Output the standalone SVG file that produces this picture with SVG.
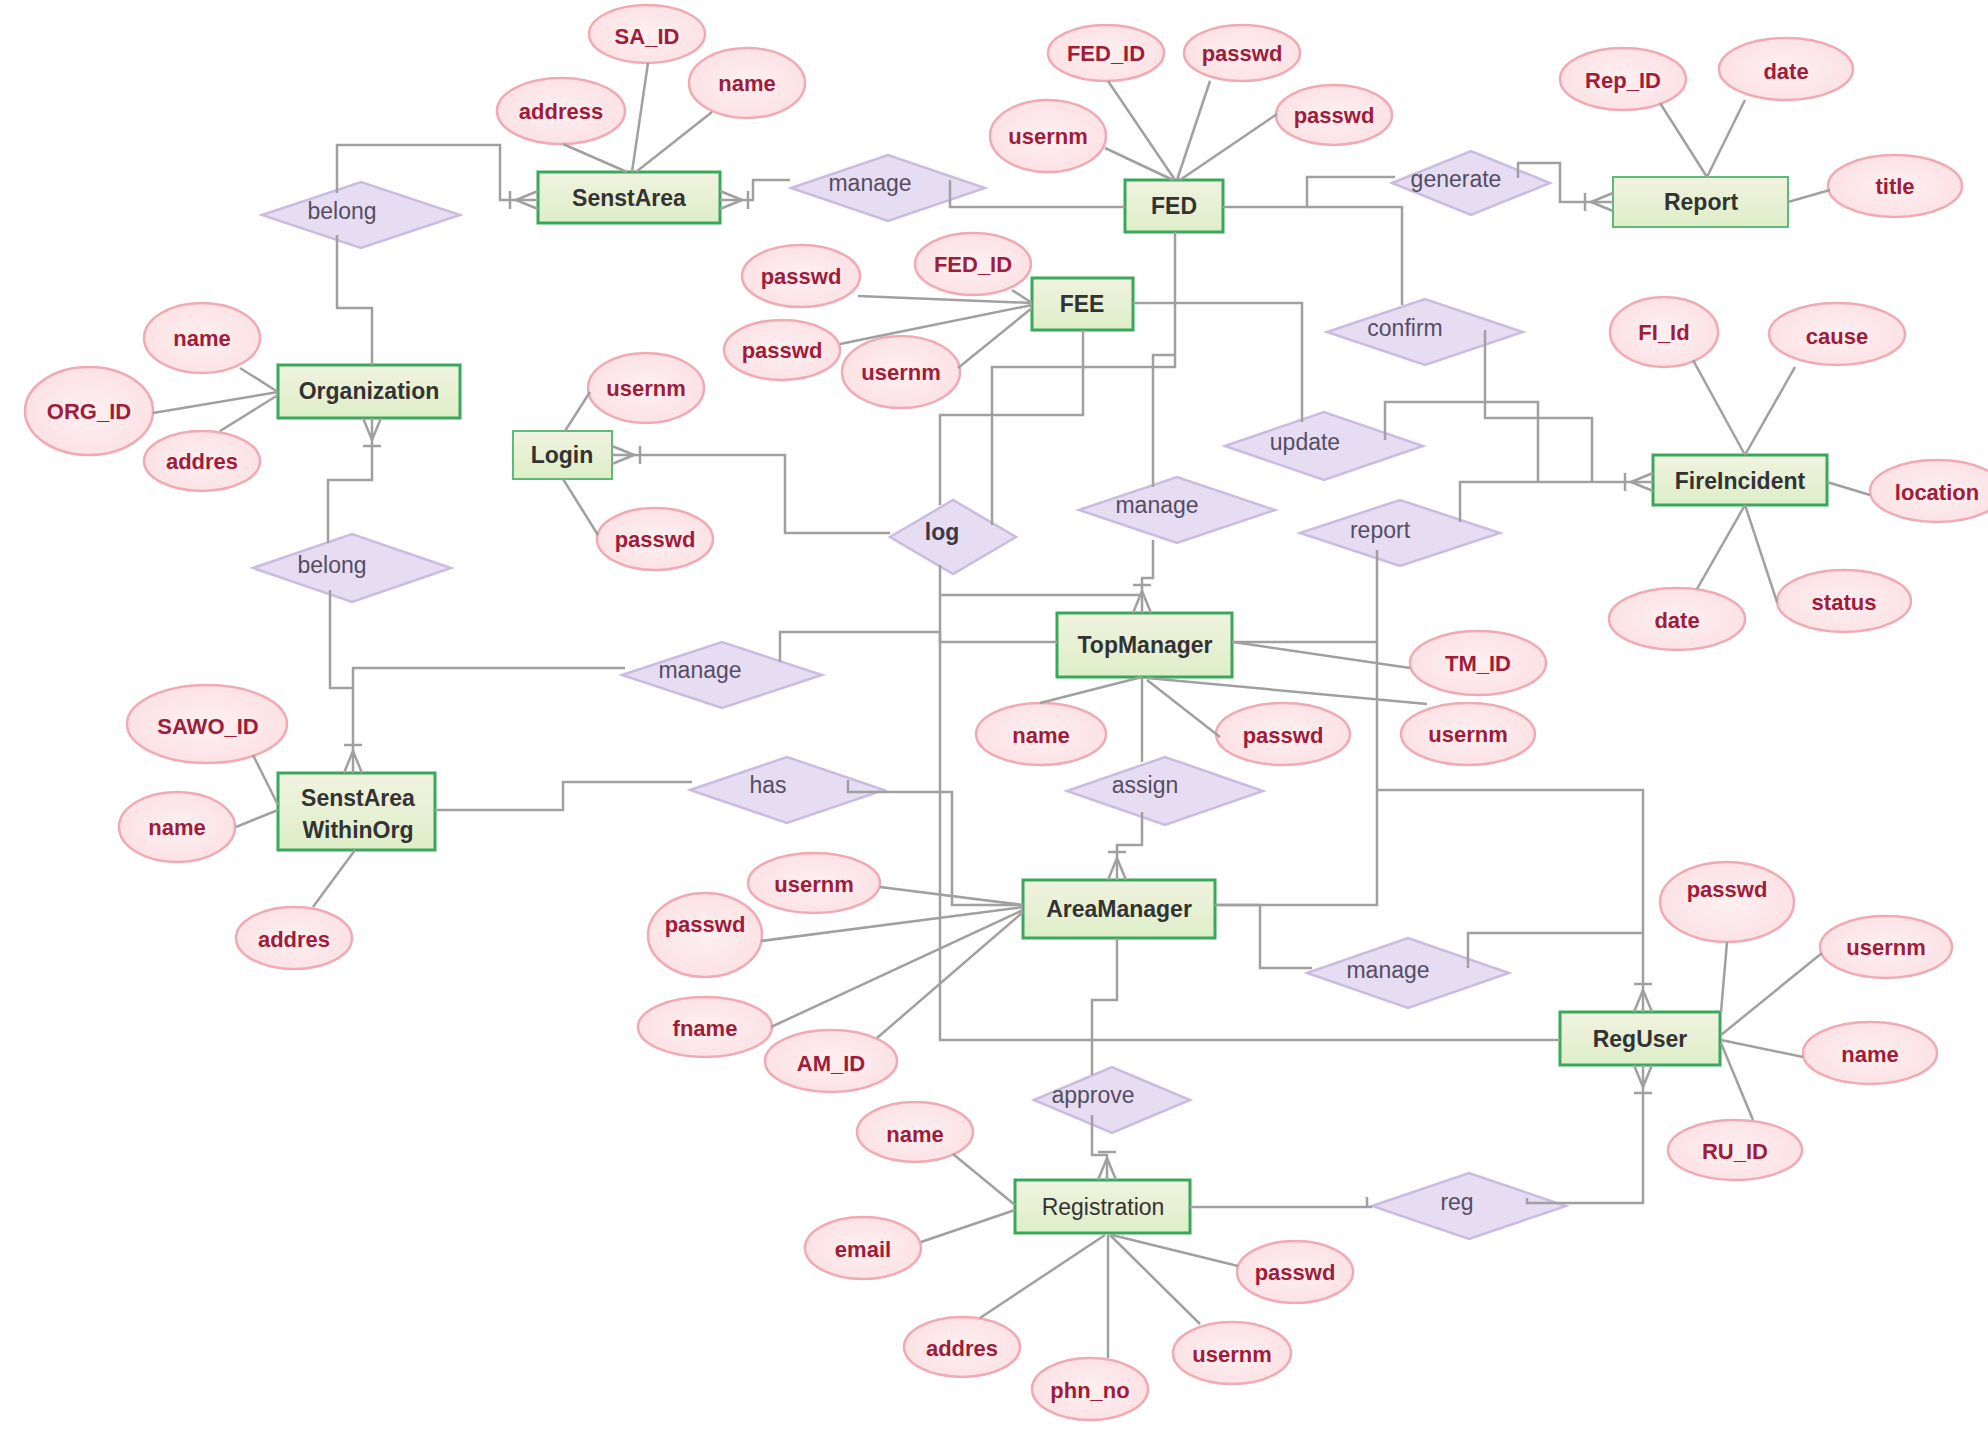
<svg xmlns="http://www.w3.org/2000/svg" width="1988" height="1438" viewBox="0 0 1988 1438">
<style>
.ent rect{fill:url(#eg);stroke:#38a95a;stroke-width:3}
.ent.thin rect{stroke:#5dba78;stroke-width:2}
.et{font-family:"Liberation Sans",Arial,sans-serif;font-size:23px;font-weight:bold;fill:#333;text-anchor:middle;dominant-baseline:central}
.et.n{font-weight:normal}
.rel polygon{fill:#e6ddf2;stroke:#c9bce0;stroke-width:2.5}
.rt{font-family:"Liberation Sans",Arial,sans-serif;font-size:23px;fill:#554d63;text-anchor:middle;dominant-baseline:central}
.att ellipse{fill:url(#pg);stroke:#f0aab3;stroke-width:2.5}
.at{font-family:"Liberation Sans",Arial,sans-serif;font-size:22px;font-weight:bold;fill:#a01c3a;text-anchor:middle;dominant-baseline:central}
.c path,.c line{stroke:#a0a0a0;stroke-width:2.5;fill:none}
</style>
<defs>
<linearGradient id="eg" x1="0" y1="0" x2="0" y2="1"><stop offset="0" stop-color="#f1f3e0"/><stop offset="1" stop-color="#ddeec8"/></linearGradient>
<radialGradient id="pg"><stop offset="0" stop-color="#fdf0f1"/><stop offset="1" stop-color="#fce2e5"/></radialGradient>
<marker id="om" markerUnits="userSpaceOnUse" markerWidth="40" markerHeight="24" viewBox="0 0 40 24" refX="36" refY="12" orient="auto" overflow="visible">
<path d="M14,12 L36,3 M14,12 L36,21 M8,3 L8,21" stroke="#a0a0a0" stroke-width="2.5" fill="none"/>
</marker>
</defs>
<rect width="1988" height="1438" fill="#fff"/>

<!-- Entities -->
<g id="SenstArea" class="ent"><rect x="538" y="172" width="182" height="51"/><text class="et" x="629" y="198">SenstArea</text></g>
<g id="FED" class="ent"><rect x="1125" y="180" width="98" height="52"/><text class="et" x="1174" y="206">FED</text></g>
<g id="FEE" class="ent"><rect x="1032" y="278" width="101" height="52"/><text class="et" x="1082" y="304">FEE</text></g>
<g id="Report" class="ent thin"><rect x="1613" y="177" width="175" height="50"/><text class="et" x="1701" y="202">Report</text></g>
<g id="Organization" class="ent"><rect x="278" y="365" width="182" height="53"/><text class="et" x="369" y="391">Organization</text></g>
<g id="Login" class="ent thin"><rect x="513" y="431" width="99" height="48"/><text class="et" x="562" y="455">Login</text></g>
<g id="FireIncident" class="ent"><rect x="1653" y="455" width="174" height="50"/><text class="et" x="1740" y="481">FireIncident</text></g>
<g id="TopManager" class="ent"><rect x="1057" y="613" width="175" height="64"/><text class="et" x="1145" y="645">TopManager</text></g>
<g id="AreaManager" class="ent"><rect x="1023" y="880" width="192" height="58"/><text class="et" x="1119" y="909">AreaManager</text></g>
<g id="SenstAreaWithinOrg" class="ent"><rect x="278" y="773" width="157" height="77"/><text class="et" x="358" y="798">SenstArea</text><text class="et" x="358" y="830">WithinOrg</text></g>
<g id="RegUser" class="ent"><rect x="1560" y="1012" width="160" height="53"/><text class="et" x="1640" y="1039">RegUser</text></g>
<g id="Registration" class="ent"><rect x="1015" y="1180" width="175" height="53"/><text class="et n" x="1103" y="1207">Registration</text></g>

<!-- Relationships -->
<g id="belong1" class="rel"><polygon points="262,215 361,182 460,215 361,248"/><text class="rt" x="342" y="211">belong</text></g>
<g id="manage1" class="rel"><polygon points="791,188 888,155 985,188 888,221"/><text class="rt" x="870" y="183">manage</text></g>
<g id="generate" class="rel"><polygon points="1392,183 1471,151 1550,183 1471,215"/><text class="rt" x="1456" y="179">generate</text></g>
<g id="confirm" class="rel"><polygon points="1327,332 1425,299 1523,332 1425,365"/><text class="rt" x="1405" y="328">confirm</text></g>
<g id="update" class="rel"><polygon points="1225,446 1324,412 1423,446 1324,480"/><text class="rt" x="1305" y="442">update</text></g>
<g id="log" class="rel"><polygon points="890,537 953,500 1016,537 953,574"/><text class="rt" x="942" y="532" style="font-weight:bold;fill:#3d3748">log</text></g>
<g id="manage2" class="rel"><polygon points="1079,510 1177,477 1275,510 1177,543"/><text class="rt" x="1157" y="505">manage</text></g>
<g id="report" class="rel"><polygon points="1300,533 1400,500 1500,533 1400,566"/><text class="rt" x="1380" y="530">report</text></g>
<g id="belong2" class="rel"><polygon points="253,568 352,534 451,568 352,602"/><text class="rt" x="332" y="565">belong</text></g>
<g id="manage3" class="rel"><polygon points="622,675 722,642 822,675 722,708"/><text class="rt" x="700" y="670">manage</text></g>
<g id="has" class="rel"><polygon points="690,790 787,757 884,790 787,823"/><text class="rt" x="768" y="785">has</text></g>
<g id="assign" class="rel"><polygon points="1067,791 1165,757 1263,791 1165,825"/><text class="rt" x="1145" y="785">assign</text></g>
<g id="manage4" class="rel"><polygon points="1307,973 1408,938 1509,973 1408,1008"/><text class="rt" x="1388" y="970">manage</text></g>
<g id="approve" class="rel"><polygon points="1034,1100 1112,1067 1190,1100 1112,1133"/><text class="rt" x="1093" y="1095">approve</text></g>
<g id="reg" class="rel"><polygon points="1372,1206 1469,1173 1566,1206 1469,1239"/><text class="rt" x="1457" y="1202">reg</text></g>

<!-- Attributes -->
<g id="a_sa_id" class="att"><ellipse cx="647" cy="34" rx="58" ry="29"/><text class="at" x="647" y="36">SA_ID</text></g>
<g id="a_sa_address" class="att"><ellipse cx="561" cy="111" rx="64" ry="33"/><text class="at" x="561" y="111">address</text></g>
<g id="a_sa_name" class="att"><ellipse cx="747" cy="83" rx="58" ry="35"/><text class="at" x="747" y="83">name</text></g>
<g id="a_fed_id" class="att"><ellipse cx="1106" cy="53" rx="58" ry="28"/><text class="at" x="1106" y="53">FED_ID</text></g>
<g id="a_fed_pw1" class="att"><ellipse cx="1242" cy="53" rx="58" ry="28"/><text class="at" x="1242" y="53">passwd</text></g>
<g id="a_fed_user" class="att"><ellipse cx="1048" cy="136" rx="58" ry="36"/><text class="at" x="1048" y="136">usernm</text></g>
<g id="a_fed_pw2" class="att"><ellipse cx="1334" cy="115" rx="58" ry="30"/><text class="at" x="1334" y="115">passwd</text></g>
<g id="a_fee_pw1" class="att"><ellipse cx="801" cy="276" rx="59" ry="31"/><text class="at" x="801" y="276">passwd</text></g>
<g id="a_fee_id" class="att"><ellipse cx="973" cy="264" rx="58" ry="31"/><text class="at" x="973" y="264">FED_ID</text></g>
<g id="a_fee_pw2" class="att"><ellipse cx="782" cy="350" rx="58" ry="30"/><text class="at" x="782" y="350">passwd</text></g>
<g id="a_fee_user" class="att"><ellipse cx="901" cy="372" rx="59" ry="36"/><text class="at" x="901" y="372">usernm</text></g>
<g id="a_login_user" class="att"><ellipse cx="646" cy="388" rx="58" ry="35"/><text class="at" x="646" y="388">usernm</text></g>
<g id="a_login_pw" class="att"><ellipse cx="655" cy="539" rx="58" ry="31"/><text class="at" x="655" y="539">passwd</text></g>
<g id="a_org_name" class="att"><ellipse cx="202" cy="338" rx="58" ry="35"/><text class="at" x="202" y="338">name</text></g>
<g id="a_org_id" class="att"><ellipse cx="89" cy="411" rx="64" ry="44"/><text class="at" x="89" y="411">ORG_ID</text></g>
<g id="a_org_addr" class="att"><ellipse cx="202" cy="461" rx="58" ry="30"/><text class="at" x="202" y="461">addres</text></g>
<g id="a_rep_id" class="att"><ellipse cx="1623" cy="79" rx="63" ry="31"/><text class="at" x="1623" y="80">Rep_ID</text></g>
<g id="a_rep_date" class="att"><ellipse cx="1786" cy="69" rx="67" ry="31"/><text class="at" x="1786" y="71">date</text></g>
<g id="a_rep_title" class="att"><ellipse cx="1895" cy="186" rx="67" ry="31"/><text class="at" x="1895" y="186">title</text></g>
<g id="a_fi_id" class="att"><ellipse cx="1664" cy="332" rx="54" ry="35"/><text class="at" x="1664" y="332">FI_Id</text></g>
<g id="a_fi_cause" class="att"><ellipse cx="1837" cy="334" rx="68" ry="31"/><text class="at" x="1837" y="336">cause</text></g>
<g id="a_fi_loc" class="att"><ellipse cx="1937" cy="491" rx="67" ry="31"/><text class="at" x="1937" y="492">location</text></g>
<g id="a_fi_date" class="att"><ellipse cx="1677" cy="619" rx="68" ry="31"/><text class="at" x="1677" y="620">date</text></g>
<g id="a_fi_status" class="att"><ellipse cx="1844" cy="601" rx="67" ry="31"/><text class="at" x="1844" y="602">status</text></g>
<g id="a_tm_id" class="att"><ellipse cx="1478" cy="663" rx="68" ry="32"/><text class="at" x="1478" y="663">TM_ID</text></g>
<g id="a_tm_user" class="att"><ellipse cx="1468" cy="734" rx="67" ry="31"/><text class="at" x="1468" y="734">usernm</text></g>
<g id="a_tm_name" class="att"><ellipse cx="1041" cy="734" rx="65" ry="31"/><text class="at" x="1041" y="735">name</text></g>
<g id="a_tm_pw" class="att"><ellipse cx="1283" cy="734" rx="67" ry="31"/><text class="at" x="1283" y="735">passwd</text></g>
<g id="a_am_user" class="att"><ellipse cx="814" cy="883" rx="66" ry="30"/><text class="at" x="814" y="884">usernm</text></g>
<g id="a_am_pw" class="att"><ellipse cx="705" cy="935" rx="57" ry="42"/><text class="at" x="705" y="924">passwd</text></g>
<g id="a_am_fname" class="att"><ellipse cx="705" cy="1027" rx="67" ry="30"/><text class="at" x="705" y="1028">fname</text></g>
<g id="a_am_id" class="att"><ellipse cx="831" cy="1061" rx="66" ry="31"/><text class="at" x="831" y="1063">AM_ID</text></g>
<g id="a_reg_name" class="att"><ellipse cx="915" cy="1132" rx="58" ry="30"/><text class="at" x="915" y="1134">name</text></g>
<g id="a_reg_email" class="att"><ellipse cx="863" cy="1248" rx="58" ry="31"/><text class="at" x="863" y="1249">email</text></g>
<g id="a_reg_addr" class="att"><ellipse cx="962" cy="1347" rx="58" ry="30"/><text class="at" x="962" y="1348">addres</text></g>
<g id="a_reg_phone" class="att"><ellipse cx="1090" cy="1389" rx="58" ry="31"/><text class="at" x="1090" y="1390">phn_no</text></g>
<g id="a_reg_user" class="att"><ellipse cx="1232" cy="1353" rx="59" ry="31"/><text class="at" x="1232" y="1354">usernm</text></g>
<g id="a_reg_pw" class="att"><ellipse cx="1295" cy="1272" rx="58" ry="31"/><text class="at" x="1295" y="1272">passwd</text></g>
<g id="a_ru_pw" class="att"><ellipse cx="1727" cy="902" rx="67" ry="40"/><text class="at" x="1727" y="889">passwd</text></g>
<g id="a_ru_user" class="att"><ellipse cx="1886" cy="947" rx="66" ry="31"/><text class="at" x="1886" y="947">usernm</text></g>
<g id="a_ru_name" class="att"><ellipse cx="1870" cy="1053" rx="67" ry="31"/><text class="at" x="1870" y="1054">name</text></g>
<g id="a_ru_id" class="att"><ellipse cx="1735" cy="1150" rx="67" ry="30"/><text class="at" x="1735" y="1151">RU_ID</text></g>
<g id="a_sawo_id" class="att"><ellipse cx="207" cy="724" rx="80" ry="39"/><text class="at" x="208" y="726">SAWO_ID</text></g>
<g id="a_sawo_name" class="att"><ellipse cx="177" cy="827" rx="58" ry="35"/><text class="at" x="177" y="827">name</text></g>
<g id="a_sawo_addr" class="att"><ellipse cx="294" cy="938" rx="58" ry="31"/><text class="at" x="294" y="939">addres</text></g>

<!-- Connectors -->
<g id="connectors" class="c">
<path d="M337,193 L337,145 L500,145 L500,200 L538,200" marker-end="url(#om)"/>
<path d="M337,235 L337,308 L372,308 L372,365"/>
<path d="M950,180 L950,190 L950,207 L1125,207"/>
<path d="M790,180 L753,180 L753,200 L720,200" marker-end="url(#om)"/>
<path d="M1223,207 L1307,207 L1307,177 L1395,177"/>
<path d="M1307,207 L1402,207 L1402,305"/>
<path d="M1518,178 L1518,163 L1560,163 L1560,202 L1613,202" marker-end="url(#om)"/>
<path d="M1175,232 L1175,367 L992,367 L992,525"/>
<path d="M1175,355 L1153,355 L1153,487"/>
<path d="M1133,303 L1302,303 L1302,422"/>
<path d="M1083,330 L1083,415 L940,415 L940,505"/>
<path d="M940,565 L940,1040 L1560,1040"/>
<path d="M940,595 L1142,595"/>
<path d="M1153,540 L1153,578 L1142,578 L1142,613" marker-end="url(#om)"/>
<path d="M780,662 L780,632 L940,632 L940,642 L1057,642"/>
<path d="M625,668 L353,668 L353,773" marker-end="url(#om)"/>
<path d="M330,590 L330,688 L353,688"/>
<path d="M328,543 L328,480 L372,480 L372,418" marker-end="url(#om)"/>
<path d="M435,810 L563,810 L563,782 L692,782"/>
<path d="M848,780 L848,792 L952,792 L952,905 L1023,905"/>
<path d="M1142,677 L1142,762"/>
<path d="M1142,812 L1142,845 L1117,845 L1117,880" marker-end="url(#om)"/>
<path d="M1232,642 L1377,642"/>
<path d="M1377,550 L1377,905 L1215,905"/>
<path d="M1377,790 L1643,790 L1643,1012" marker-end="url(#om)"/>
<path d="M1460,522 L1460,482 L1653,482" marker-end="url(#om)"/>
<path d="M1485,330 L1485,418 L1592,418 L1592,482"/>
<path d="M1385,440 L1385,402 L1538,402 L1538,482"/>
<path d="M1117,938 L1117,1000 L1092,1000 L1092,1075"/>
<path d="M1092,1115 L1092,1155 L1107,1155 L1107,1180" marker-end="url(#om)"/>
<path d="M1215,905 L1260,905 L1260,968 L1312,968"/>
<path d="M1468,968 L1468,933 L1643,933"/>
<path d="M1190,1207 L1372,1207 M1367,1197 L1367,1207"/>
<path d="M1527,1198 L1527,1203 L1643,1203 L1643,1065" marker-end="url(#om)"/>
<path d="M890,533 L785,533 L785,455 L612,455" marker-end="url(#om)"/>
<!-- attribute links -->
<line x1="648" y1="63" x2="632" y2="172"/>
<line x1="563" y1="144" x2="627" y2="172"/>
<line x1="712" y1="112" x2="636" y2="172"/>
<line x1="1108" y1="81" x2="1175" y2="180"/>
<line x1="1210" y1="81" x2="1177" y2="180"/>
<line x1="1105" y1="148" x2="1173" y2="180"/>
<line x1="1277" y1="114" x2="1180" y2="180"/>
<line x1="858" y1="296" x2="1032" y2="303"/>
<line x1="1012" y1="290" x2="1032" y2="303"/>
<line x1="840" y1="344" x2="1032" y2="305"/>
<line x1="958" y1="368" x2="1032" y2="308"/>
<line x1="590" y1="392" x2="565" y2="431"/>
<line x1="598" y1="535" x2="563" y2="479"/>
<line x1="240" y1="368" x2="278" y2="392"/>
<line x1="153" y1="413" x2="278" y2="392"/>
<line x1="220" y1="431" x2="278" y2="395"/>
<line x1="1660" y1="103" x2="1707" y2="177"/>
<line x1="1745" y1="100" x2="1707" y2="177"/>
<line x1="1830" y1="190" x2="1788" y2="202"/>
<line x1="1693" y1="360" x2="1745" y2="455"/>
<line x1="1795" y1="367" x2="1745" y2="455"/>
<line x1="1827" y1="482" x2="1870" y2="495"/>
<line x1="1697" y1="589" x2="1745" y2="505"/>
<line x1="1777" y1="602" x2="1745" y2="505"/>
<line x1="1142" y1="677" x2="1040" y2="703"/>
<line x1="1147" y1="680" x2="1220" y2="737"/>
<line x1="1233" y1="642" x2="1410" y2="668"/>
<line x1="1147" y1="678" x2="1427" y2="704"/>
<line x1="880" y1="887" x2="1023" y2="905"/>
<line x1="761" y1="941" x2="1023" y2="907"/>
<line x1="771" y1="1027" x2="1023" y2="910"/>
<line x1="877" y1="1038" x2="1023" y2="912"/>
<line x1="953" y1="1154" x2="1015" y2="1205"/>
<line x1="921" y1="1242" x2="1015" y2="1210"/>
<line x1="980" y1="1318" x2="1105" y2="1235"/>
<line x1="1108" y1="1235" x2="1108" y2="1358"/>
<line x1="1200" y1="1324" x2="1110" y2="1235"/>
<line x1="1238" y1="1266" x2="1112" y2="1235"/>
<line x1="1727" y1="942" x2="1721" y2="1012"/>
<line x1="1822" y1="953" x2="1721" y2="1035"/>
<line x1="1803" y1="1057" x2="1721" y2="1040"/>
<line x1="1753" y1="1120" x2="1721" y2="1043"/>
<line x1="253" y1="755" x2="278" y2="805"/>
<line x1="236" y1="827" x2="278" y2="810"/>
<line x1="313" y1="907" x2="355" y2="850"/>
</g>
</svg>
